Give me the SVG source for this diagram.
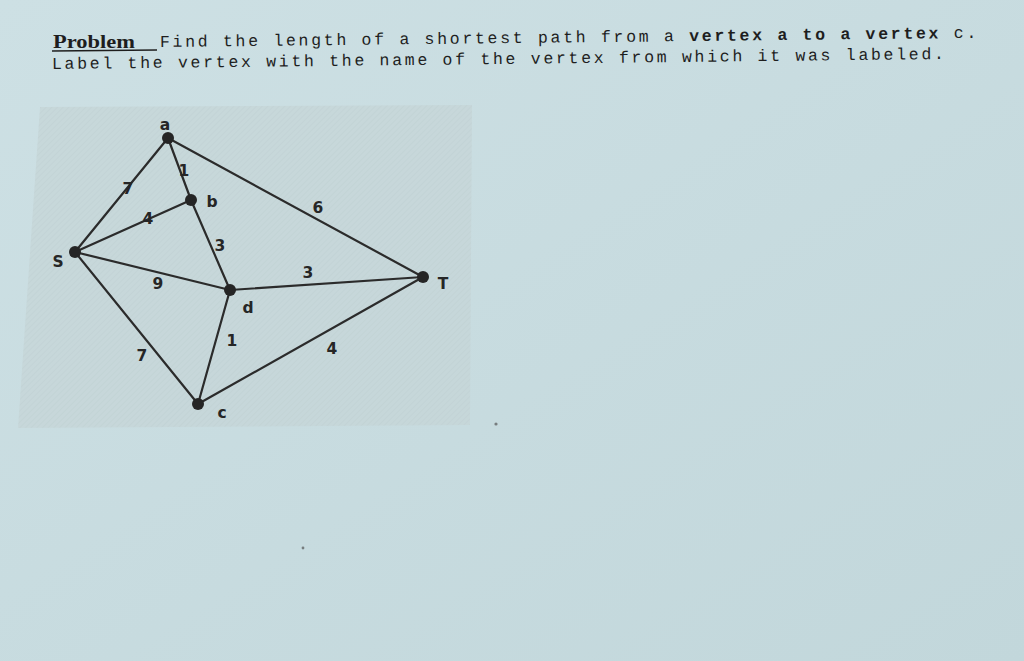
<svg xmlns="http://www.w3.org/2000/svg" width="1024" height="661" viewBox="0 0 1024 661">
  <defs>
    <linearGradient id="bg" x1="0" y1="0" x2="1" y2="1">
      <stop offset="0" stop-color="#cde0e4"/>
      <stop offset="1" stop-color="#c2d7db"/>
    </linearGradient>
    <pattern id="hatch" width="4" height="4" patternUnits="userSpaceOnUse" patternTransform="rotate(45)">
      <rect width="4" height="4" fill="#c6d6d8"/>
      <line x1="0" y1="0" x2="0" y2="4" stroke="#bccdcf" stroke-width="1"/>
    </pattern>
    <style>
      .hdr { font-family: "Liberation Mono", "DejaVu Sans Mono", monospace; font-size: 16.5px; letter-spacing: 2.7px; fill: #1e1e1e; }
      .b { font-weight: bold; }
      .edge { stroke: #2b2b2b; stroke-width: 2.2; fill: none; stroke-linecap: round; }
      .node { fill: #252525; }
      .lbl { font-family: "DejaVu Sans", "Liberation Sans", sans-serif; font-weight: bold; font-size: 15.5px; fill: #262626; text-anchor: middle; }
    </style>
  </defs>

  <rect width="1024" height="661" fill="url(#bg)"/>
  <polygon points="40,107 472,105 470,425 18,428" fill="url(#hatch)" opacity="0.8"/>

  <g id="header">
    <text x="53" y="48" font-family="Liberation Serif, serif" font-weight="bold" font-size="18" fill="#1e1e1e" textLength="82" lengthAdjust="spacingAndGlyphs">Problem</text>
    <line x1="52" y1="51" x2="157" y2="50" stroke="#1e1e1e" stroke-width="1.6"/>
    <text class="hdr" x="160" y="47" transform="rotate(-0.64 160 47)">Find the length</text>
    <text class="hdr" x="361.6" y="44.74" transform="rotate(-0.64 361.6 44.74)">of a shortest</text>
    <text class="hdr" x="538" y="42.77" transform="rotate(-0.64 538 42.77)">path from a</text>
    <text class="hdr b" x="689.2" y="41.07" transform="rotate(-0.64 689.2 41.07)">vertex a to a vertex</text>
    <text class="hdr" x="953.8" y="38.11" transform="rotate(-0.64 953.8 38.11)">c.</text>
    <text class="hdr" x="52" y="69" transform="rotate(-0.64 52 69)">Label the vertex</text>
    <text class="hdr" x="266.2" y="66.6" transform="rotate(-0.64 266.2 66.6)">with the name</text>
    <text class="hdr" x="442.6" y="64.63" transform="rotate(-0.64 442.6 64.63)">of the vertex</text>
    <text class="hdr" x="619" y="62.65" transform="rotate(-0.64 619 62.65)">from which</text>
    <text class="hdr" x="757.6" y="61.1" transform="rotate(-0.64 757.6 61.1)">it was labeled.</text>
  </g>

  <g id="connectors">
    <line class="edge" x1="75" y1="252" x2="168" y2="138"/>
    <line class="edge" x1="168" y1="138" x2="191" y2="200"/>
    <line class="edge" x1="168" y1="138" x2="423" y2="277"/>
    <line class="edge" x1="75" y1="252" x2="191" y2="200"/>
    <line class="edge" x1="191" y1="200" x2="230" y2="290"/>
    <line class="edge" x1="75" y1="252" x2="230" y2="290"/>
    <line class="edge" x1="230" y1="290" x2="423" y2="277"/>
    <line class="edge" x1="75" y1="252" x2="198" y2="404"/>
    <line class="edge" x1="230" y1="290" x2="198" y2="404"/>
    <line class="edge" x1="198" y1="404" x2="423" y2="277"/>
  </g>

  <g id="weights">
    <text class="lbl" x="128" y="194">7</text>
    <text class="lbl" x="184" y="176">1</text>
    <text class="lbl" x="148" y="224">4</text>
    <text class="lbl" x="318" y="213">6</text>
    <text class="lbl" x="220" y="251">3</text>
    <text class="lbl" x="308" y="278">3</text>
    <text class="lbl" x="158" y="289">9</text>
    <text class="lbl" x="232" y="346">1</text>
    <text class="lbl" x="142" y="361">7</text>
    <text class="lbl" x="332" y="354">4</text>
  </g>

  <g id="node-a"><circle class="node" cx="168" cy="138" r="6"/><text class="lbl" x="165" y="130">a</text></g>
  <g id="node-b"><circle class="node" cx="191" cy="200" r="6"/><text class="lbl" x="212" y="207">b</text></g>
  <g id="node-S"><circle class="node" cx="75" cy="252" r="6"/><text class="lbl" x="58" y="267">S</text></g>
  <g id="node-d"><circle class="node" cx="230" cy="290" r="6"/><text class="lbl" x="248" y="313">d</text></g>
  <g id="node-T"><circle class="node" cx="423" cy="277" r="6"/><text class="lbl" x="443" y="289">T</text></g>
  <g id="node-c"><circle class="node" cx="198" cy="404" r="6"/><text class="lbl" x="222" y="418">c</text></g>

  <circle cx="496" cy="424" r="1.6" fill="#555" opacity="0.7"/>
  <circle cx="303" cy="548" r="1.4" fill="#555" opacity="0.7"/>
</svg>
